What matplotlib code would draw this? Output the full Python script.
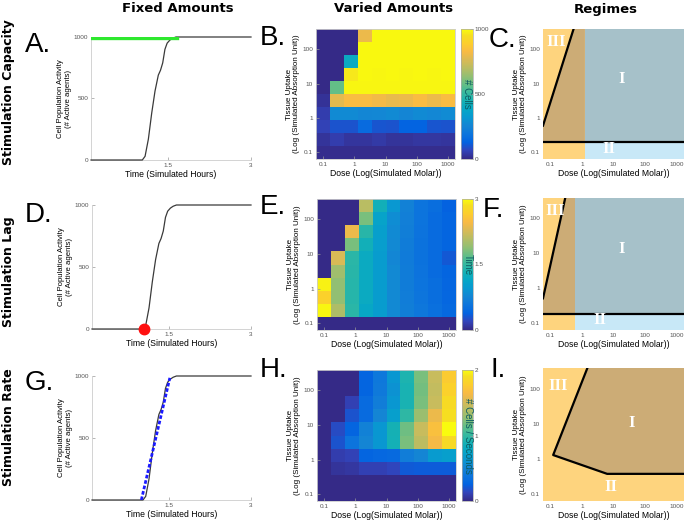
import matplotlib
matplotlib.use('Agg')
import matplotlib.pyplot as plt
from matplotlib.colors import LinearSegmentedColormap
import numpy as np

plt.rcParams['font.family'] = ['Liberation Sans', 'DejaVu Sans']

W, H = 685, 523

# simulated population activity (used in A, D, G)
time_h = [0.1, 1.03, 1.08, 1.14, 1.20, 1.26, 1.32, 1.36, 1.40, 1.44, 1.48, 1.53, 1.58, 1.64, 3.0]
active = [0, 0, 30, 170, 380, 560, 690, 730, 790, 900, 950, 975, 990, 1000, 1000]
capacity_t = [0.1, 1.65]
capacity_v = [992, 992]
lag_t = 1.045
rate_t = [1.0, 1.52]
rate_v = [0, 985]

# heatmap grid
dose = [0.1, 0.28, 0.77, 2.15, 6.0, 16.7, 46.4, 129, 359, 1000]
uptake = [0.1, 0.24, 0.57, 1.36, 3.2, 7.7, 18.3, 43.6, 104, 248]

# rows go from uptake 0.1 (bottom) to the top
cells = [
    [8, 8, 8, 8, 8, 8, 8, 8, 8, 8],
    [25, 48, 30, 30, 40, 25, 25, 35, 35, 30],
    [60, 95, 95, 160, 100, 95, 130, 130, 100, 95],
    [50, 270, 270, 260, 265, 270, 255, 270, 265, 275],
    [20, 785, 830, 830, 810, 790, 800, 830, 800, 830],
    [0, 570, 990, 990, 990, 990, 990, 990, 990, 990],
    [0, 0, 965, 995, 990, 995, 990, 995, 990, 995],
    [0, 0, 400, 995, 995, 995, 995, 995, 995, 995],
    [0, 0, 0, 995, 995, 995, 995, 995, 995, 995],
    [0, 0, 0, 800, 995, 995, 995, 995, 995, 995],
]
lag_time = [
    [0, 0, 0, 0, 0, 0, 0, 0, 0, 0],
    [2.97, 2.05, 1.45, 1.15, 1.0, 0.8, 0.68, 0.6, 0.52, 0.45],
    [2.7, 1.9, 1.42, 1.2, 1.0, 0.8, 0.67, 0.58, 0.5, 0.43],
    [2.95, 1.9, 1.42, 1.2, 1.0, 0.8, 0.66, 0.57, 0.5, 0.42],
    [0, 1.97, 1.43, 1.2, 1.0, 0.8, 0.66, 0.56, 0.48, 0.4],
    [0, 2.28, 1.45, 1.2, 1.0, 0.78, 0.65, 0.55, 0.47, 0.32],
    [0, 0, 1.8, 1.3, 1.02, 0.8, 0.66, 0.55, 0.47, 0.4],
    [0, 0, 2.4, 1.43, 1.05, 0.82, 0.68, 0.56, 0.47, 0.4],
    [0, 0, 0, 1.8, 1.1, 0.85, 0.7, 0.57, 0.48, 0.4],
    [0, 0, 0, 2.1, 1.3, 0.95, 0.72, 0.57, 0.5, 0.38],
]
rate = [
    [0, 0, 0, 0, 0, 0, 0, 0, 0, 0],
    [0, 0, 0, 0, 0, 0, 0, 0, 0, 0],
    [0, 0.05, 0.07, 0.11, 0.11, 0.14, 0.22, 0.23, 0.23, 0.23],
    [0, 0.10, 0.12, 0.27, 0.29, 0.31, 0.45, 0.51, 0.66, 0.70],
    [0, 0.19, 0.38, 0.51, 0.63, 0.88, 1.2, 1.42, 1.64, 1.86],
    [0, 0.16, 0.27, 0.48, 0.63, 0.89, 1.17, 1.46, 1.68, 2.0],
    [0, 0, 0.19, 0.32, 0.51, 0.7, 0.98, 1.3, 1.6, 1.9],
    [0, 0, 0.11, 0.32, 0.45, 0.63, 0.9, 1.2, 1.46, 1.87],
    [0, 0, 0, 0.27, 0.42, 0.6, 0.9, 1.18, 1.44, 1.8],
    [0, 0, 0, 0.27, 0.41, 0.63, 0.92, 1.2, 1.46, 1.75],
]

# regime boundaries
cap_split, cap_floor, cap_diag = 1.25, 0.2, [0.6, 0.55]
lag_split, lag_floor, lag_diag = 0.62, 0.18, [0.52, 0.30]
rate_bx = [1.5, 0.125, 6.3]
rate_by = [None, 1.3, 0.38]

ORANGE = '#FED47E'
TAN = '#CCAC76'
GRAYBLUE = '#A6C1C9'
LIGHTBLUE = '#C8E8F7'

parula = LinearSegmentedColormap.from_list('parula', [
    (0 / 63, (0.2081, 0.1663, 0.5292)), (4 / 63, (0.1959, 0.2645, 0.7279)),
    (8 / 63, (0.0117, 0.3875, 0.8820)), (12 / 63, (0.0498, 0.4586, 0.8641)),
    (16 / 63, (0.0793, 0.5200, 0.8312)), (20 / 63, (0.0343, 0.5966, 0.8199)),
    (24 / 63, (0.0228, 0.6535, 0.7768)), (28 / 63, (0.0843, 0.6928, 0.7062)),
    (32 / 63, (0.2178, 0.7250, 0.6193)), (36 / 63, (0.3953, 0.7459, 0.5244)),
    (40 / 63, (0.5709, 0.7485, 0.4494)), (44 / 63, (0.7184, 0.7411, 0.3905)),
    (48 / 63, (0.8507, 0.7299, 0.3360)), (52 / 63, (0.9739, 0.7314, 0.2666)),
    (56 / 63, (0.9880, 0.8066, 0.1794)), (60 / 63, (0.9626, 0.8705, 0.1309)),
    (1.0, (0.9763, 0.9831, 0.0538))])


def box(l, t, r, b):
    return [l / W, 1 - b / H, (r - l) / W, (b - t) / H]


def edges(c):
    lc = np.log10(c)
    mid = (lc[:-1] + lc[1:]) / 2
    return 10 ** np.concatenate([[2 * lc[0] - mid[0]], mid, [2 * lc[-1] - mid[-1]]])


xe, ye = edges(dose), edges(uptake)
xlo, xhi, ylo, yhi = xe[0], xe[-1], ye[0], ye[-1]

fig = plt.figure(figsize=(W / 100, H / 100), dpi=100)

TICK = dict(labelsize=4.6, labelcolor='#555555', color='#999999', direction='in',
            length=2, width=0.5, pad=2)


def activity_panel(rect):
    ax = fig.add_axes(box(*rect))
    ax.plot(time_h, active, color='#3a3a3a', lw=0.9, clip_on=False, zorder=3)
    ax.set_xlim(0.1, 3)
    ax.set_ylim(0, 1000)
    ax.set_xticks([1.5, 3], ['1.5', '3'])
    ax.set_yticks([0, 500, 1000])
    for s in ['top', 'right']:
        ax.spines[s].set_visible(False)
    for s in ['left', 'bottom']:
        ax.spines[s].set_color('#cccccc')
        ax.spines[s].set_linewidth(0.6)
    ax.tick_params(**TICK)
    ax.set_xlabel('Time (Simulated Hours)', fontsize=6.2, labelpad=1.5)
    ax.set_ylabel('Cell Population Activity\n(# Active agents)', fontsize=5.6,
                  labelpad=1.5, linespacing=1.1)
    return ax


def log_axes(ax):
    ax.set_xscale('log')
    ax.set_yscale('log')
    ax.set_xlim(xlo, xhi)
    ax.set_ylim(ylo, yhi)
    ax.set_xticks([0.1, 1, 10, 100, 1000], ['0.1', '1', '10', '100', '1000'])
    ax.set_yticks([0.1, 1, 10, 100], ['0.1', '1', '10', '100'])
    ax.minorticks_off()
    ax.tick_params(**TICK)
    ax.set_xlabel('Dose (Log(Simulated Molar))', fontsize=6.2, labelpad=1.5)
    ax.set_ylabel('Tissue Uptake\n(Log (Simulated Absorption Unit))', fontsize=5.8,
                  labelpad=1.5, linespacing=1.1)


def heat_panel(rect, crect, vals, vmax, ticks, ticklabels, label):
    ax = fig.add_axes(box(*rect))
    mesh = ax.pcolormesh(xe, ye, np.array(vals), cmap=parula, vmin=0, vmax=vmax)
    log_axes(ax)
    for s in ax.spines.values():
        s.set_color('#cccccc')
        s.set_linewidth(0.6)
    cax = fig.add_axes(box(*crect))
    cb = fig.colorbar(mesh, cax=cax, ticks=ticks)
    cb.set_ticklabels(ticklabels)
    cb.outline.set_edgecolor('#aaaaaa')
    cb.outline.set_linewidth(0.5)
    cax.tick_params(labelsize=4.6, labelcolor='#555555', color='#999999',
                    direction='in', length=2, width=0.5, pad=1.0)
    cax.text(0.5, 0.5, label, rotation=270, ha='center', va='center',
             transform=cax.transAxes, fontsize=7, color='#0d5c63')
    return ax


def roman(ax, x, y, s):
    ax.text(x, y, s, transform=ax.transAxes, ha='center', va='center', color='white',
            fontsize=12, family='Liberation Serif', fontweight='bold', clip_on=True)


def split_regime(rect, split, floor, diag, pos):
    ax = fig.add_axes(box(*rect))
    log_axes(ax)
    ax.axvspan(xlo, split, color=ORANGE, lw=0)
    ax.axvspan(split, xhi, color=LIGHTBLUE, lw=0)
    ax.fill([xlo, xlo, diag[1], split, split], [floor, diag[0], yhi, yhi, floor],
            color=TAN, lw=0)
    ax.fill([split, split, xhi, xhi], [floor, yhi, yhi, floor], color=GRAYBLUE, lw=0)
    ax.plot([xlo, diag[1]], [diag[0], yhi], color='black', lw=1.6)
    ax.plot([xlo, xhi], [floor, floor], color='black', lw=1.6)
    for sp in ax.spines.values():
        sp.set_visible(False)
    ax.tick_params(length=0)
    for (x, y), s in zip(pos, ['III', 'I', 'II']):
        roman(ax, x, y, s)
    return ax


# --- column A/D/G ---
axA = activity_panel((91, 37, 251, 160))
axA.plot(capacity_t, capacity_v, color='#2ee82e', lw=2.4, zorder=4)
axD = activity_panel((92, 205, 251, 329))
axD.plot([lag_t], [0], 'o', color='#ff1010', ms=7.5, clip_on=False, zorder=5)
axG = activity_panel((92, 376, 251, 500))
axG.plot(rate_t, rate_v, color='#1a1aff', lw=2.0, ls=(0, (1.3, 0.7)), zorder=4)

# --- column B/E/H ---
heat_panel((316, 29, 455, 159), (461, 29, 473, 159), cells, 1000,
           [0, 500, 1000], ['0', '500', '1000'], '# Cells')
heat_panel((317, 199, 456, 330), (462, 199, 473, 330), lag_time, 3,
           [0, 1.5, 3], ['0', '1.5', '3'], 'Time')
heat_panel((317, 370, 456, 501), (462, 370, 473, 501), rate, 2,
           [0, 1, 2], ['0', '1', '2'], '# Cells / Seconds')

# --- column C/F/I ---
split_regime((543, 29, 684, 159), cap_split, cap_floor, cap_diag,
             [(0.09, 0.9), (0.56, 0.615), (0.47, 0.075)])
split_regime((543, 198, 684, 330), lag_split, lag_floor, lag_diag,
             [(0.085, 0.9), (0.56, 0.61), (0.40, 0.075)])

axI = fig.add_axes(box(543, 368, 684, 501))
log_axes(axI)
axI.axvspan(xlo, xhi, color=ORANGE, lw=0)
bx = rate_bx + [xhi]
by = [yhi] + rate_by[1:] + [rate_by[2]]
axI.fill(bx + [xhi], by + [yhi], color=TAN, lw=0)
axI.plot(bx, by, color='black', lw=1.6)
for sp in axI.spines.values():
    sp.set_visible(False)
axI.tick_params(length=0)
for (x, y), s in zip([(0.11, 0.865), (0.63, 0.59), (0.48, 0.105)], ['III', 'I', 'II']):
    roman(axI, x, y, s)

# --- titles, row labels, panel letters ---
for x, s in [(178, 'Fixed Amounts'), (394, 'Varied Amounts'), (606, 'Regimes')]:
    fig.text(x / W, 1 - 9 / H, s, ha='center', va='center', fontsize=9.5,
             fontweight='bold', family='DejaVu Sans')
for y, s in [(92, 'Stimulation Capacity'), (272, 'Stimulation Lag'), (427, 'Stimulation Rate')]:
    fig.text(9 / W, 1 - y / H, s, ha='center', va='center', rotation=90, fontsize=9,
             fontweight='bold', family='DejaVu Sans')
for x, y, s in [(25, 32, 'A.'), (260, 25, 'B.'), (489, 27, 'C.'),
                (25, 202, 'D.'), (260, 194, 'E.'), (483, 197, 'F.'),
                (25, 370, 'G.'), (260, 357, 'H.'), (491, 357, 'I.')]:
    fig.text(x / W, 1 - y / H, s, ha='left', va='top', fontsize=20)

fig.savefig('out.png', dpi=100)
